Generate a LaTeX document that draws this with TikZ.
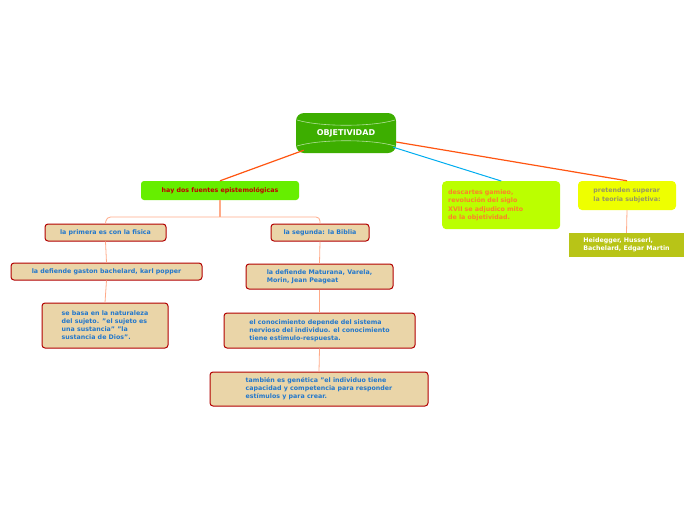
\documentclass[tikz,border=0pt]{standalone}
\usepackage{fontspec}
\setmainfont{DejaVu Sans}
\begin{document}
\begin{tikzpicture}[x=1pt,y=-1pt,
 box/.style={draw=red!70!black,line width=1pt,fill=tan1,rounded corners=3pt,text=blue1,font=\bfseries\fontsize{6.3}{8}\selectfont,align=left,anchor=north west,inner sep=4pt},
 conn/.style={draw=salm,line width=0.8pt},
 tree/.style={draw=salm,line width=0.8pt,rounded corners=4pt}]
\definecolor{tan1}{HTML}{EAD5A8}\definecolor{blue1}{HTML}{2277CC}\definecolor{salm}{HTML}{FFAA88}
\definecolor{objg}{HTML}{3DAE00}\definecolor{hayg}{HTML}{66EE00}\definecolor{org}{HTML}{FF5511}
\useasboundingbox (0,0) rectangle (696,520);
\fill[white] (0,0) rectangle (696,520);
% root
\node[fill=objg,rounded corners=8pt,minimum width=100pt,minimum height=40pt,text=white,font=\bfseries\fontsize{8}{10}\selectfont] (obj) at (346,133) {OBJETIVIDAD};
\draw[white!60!objg,line width=0.6pt] (297,120) .. controls (320,127) and (372,127) .. (395,120);
\draw[white!60!objg,line width=0.6pt] (297,146) .. controls (320,139) and (372,139) .. (395,146);
\node[fill=hayg,rounded corners=3pt,minimum width=158pt,minimum height=19pt,text=red!75!black,font=\bfseries\fontsize{6.3}{8}\selectfont] (hay) at (220,190.5) {hay dos fuentes epistemológicas};
\node[fill={rgb,255:red,187;green,255;blue,0},rounded corners=4pt,minimum width=118pt,minimum height=48pt,text={rgb,255:red,255;green,127;blue,42},font=\bfseries\fontsize{6.3}{8.5}\selectfont,align=left,text width=106pt,anchor=north west,inner sep=5pt] (des) at (442,181) {descartes gamieo,\\revolución del siglo\\XVII se adjudico mito\\de la objetividad.};
\node[fill={rgb,255:red,238;green,255;blue,0},rounded corners=4pt,minimum width=98pt,minimum height=29pt,text={rgb,255:red,150;green,150;blue,100},font=\bfseries\fontsize{6.3}{8.5}\selectfont,align=left] (pre) at (627,195.5) {pretenden superar\\la teoria subjetiva:};
\node[fill={rgb,255:red,184;green,196;blue,23},minimum width=115pt,minimum height=24pt,text=white,font=\bfseries\fontsize{6.3}{8.5}\selectfont,align=left] (hei) at (626.5,245) {Heidegger, Husserl,\\Bachelard, Edgar Martin};
% left/right branches
\node[box,minimum width=121pt,minimum height=17pt,anchor=center] (pri) at (105.5,232.5) {la primera es con la fisica};
\node[box,minimum width=98pt,minimum height=17pt,anchor=center] (seg) at (320,232.5) {la segunda: la Biblia};
\node[box,minimum width=191pt,minimum height=17pt,anchor=center] (gas) at (106.5,271.5) {la defiende gaston bachelard, karl popper};
\node[box,minimum width=147pt,minimum height=25pt,anchor=center] (mat) at (319.5,276.5) {la defiende Maturana, Varela,\\Morin, Jean Peageat};
\node[box,minimum width=126pt,minimum height=45pt,anchor=center] (bas) at (105,325.5) {se basa en la naturaleza\\del sujeto. "el sujeto es\\una sustancia"  "la\\sustancia de Dios".};
\node[box,minimum width=191pt,minimum height=35pt,anchor=center] (con) at (319.5,330.5) {el conocimiento depende del sistema\\nervioso del individuo. el conocimiento\\tiene estimulo-respuesta.};
\node[box,minimum width=218pt,minimum height=34pt,anchor=center] (tam) at (319,389) {también es genética "el individuo tiene\\capacidad y  competencia para responder\\estímulos y para crear.};
% connectors
\draw[org,line width=1.2pt] (obj.south west)++(8,-3) -- (hay.north);
\draw[cyan,line width=1pt] (obj.south east)++(-3,-6) -- (des.north);
\draw[org,line width=1.2pt] (obj.east)++(0,9) -- (pre.north);
\draw[conn] (pre.south) -- (hei.north);
\draw[salm,line width=1.2pt] (hay.south) -- ++(0,17) coordinate (j);
\draw[tree] (pri.north) -- (106.5,217) -- (320,217) -- (seg.north);
\draw[conn] (pri.south) -- (gas.north);
\draw[conn] (gas.south) -- (bas.north);
\draw[conn] (seg.south) -- (mat.north);
\draw[conn] (mat.south) -- (con.north);
\draw[conn] (con.south) -- (tam.north);
\end{tikzpicture}
\end{document}
